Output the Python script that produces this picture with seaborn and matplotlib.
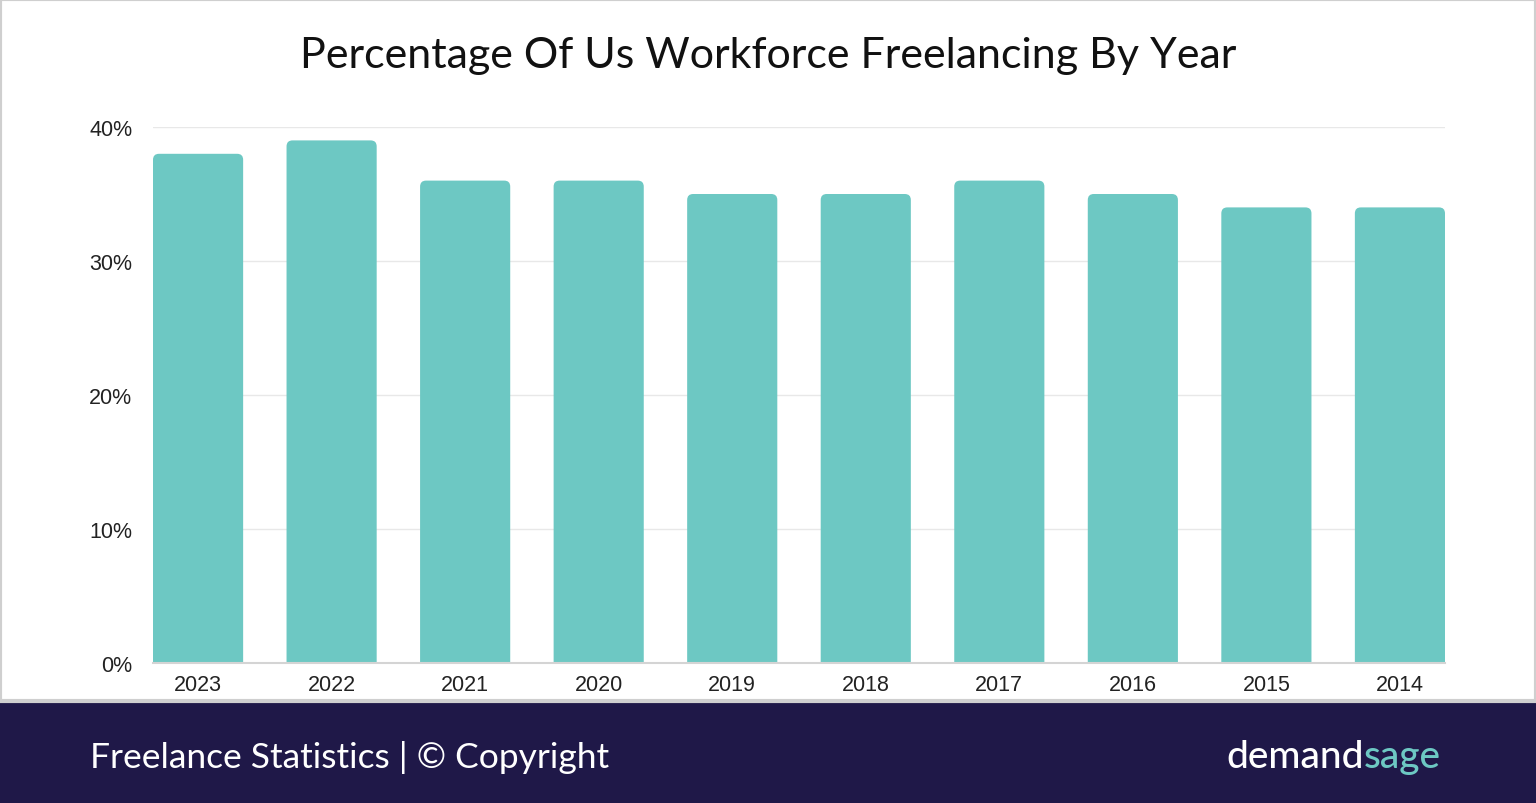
"""
Percentage of US workforce freelancing by year - bar chart
"""
import seaborn as sns
import numpy as np
import matplotlib.pyplot as plt
import pandas as pd
from matplotlib.patches import FancyBboxPatch, Rectangle

# %% Data
years = ['2023', '2022', '2021', '2020', '2019',
         '2018', '2017', '2016', '2015', '2014']
share = [38, 39, 36, 36, 35, 35, 36, 35, 34, 34]
y_ticks = [0, 10, 20, 30, 40]
y_labels = ['0%', '10%', '20%', '30%', '40%']

TEAL = '#6dc8c3'
NAVY = '#1f1848'
W, H = 1536, 804

df = pd.DataFrame({'year': years, 'share': share})

# %% Plot
sns.set_theme(style='white')
plt.rcParams['font.family'] = ['Liberation Sans', 'DejaVu Sans']

fig = plt.figure(figsize=(W / 100, H / 100), dpi=100)
ax = fig.add_axes([153 / W, (H - 664) / H, (1445 - 153) / W, (664 - 128) / H])

bw = 0.675
sns.barplot(df, x='year', y='share', color=TEAL, width=bw,
            saturation=1, ax=ax, zorder=2)

# swap plain bars for ones with rounded tops (bottom corners clipped at 0)
x_per_px = (9 + bw) / (1445 - 153)
y_per_px = 40 / (664 - 128)
r = 6 * x_per_px
for p in list(ax.patches):
    x0, w, h = p.get_x(), p.get_width(), p.get_height()
    p.set_visible(False)
    ax.add_patch(FancyBboxPatch((x0, -h), w, 2 * h,
                                boxstyle=f'round,pad=0,rounding_size={r}',
                                mutation_aspect=y_per_px / x_per_px,
                                fc=TEAL, ec='none', zorder=2))

ax.set_xlim(-bw / 2, 9 + bw / 2)
ax.set_ylim(0, 40)
ax.set_yticks(y_ticks)
ax.set_yticklabels(y_labels)
ax.yaxis.grid(True, color='#e8e8e8', lw=1, zorder=0)
ax.set_xlabel('')
ax.set_ylabel('')
for s in ['top', 'right', 'left']:
    ax.spines[s].set_visible(False)
ax.spines['bottom'].set_color('#d4d4d4')
ax.spines['bottom'].set_linewidth(1.5)
ax.spines['bottom'].set_zorder(3)
ax.tick_params(axis='both', length=0, labelsize=15.5, colors='#222222')
ax.tick_params(axis='y', pad=15)
ax.tick_params(axis='x', pad=8)

# %% Title
fig.text(768 / W, 1 - 56 / H, 'Percentage Of Us Workforce Freelancing By Year',
         ha='center', va='center', fontsize=31, family='Lato',
         color='#111111')

# %% Footer band
fig.patches.append(Rectangle((0, 0), 1, (H - 702) / H, transform=fig.transFigure,
                             fc=NAVY, ec='none', zorder=0))
fig.patches.append(Rectangle((0, (H - 702) / H), 1, 702 / H,
                             transform=fig.transFigure, fc='none',
                             ec='#cfcfcf', lw=3, zorder=5))
fig.text(90 / W, 1 - 758 / H, 'Freelance Statistics | © Copyright',
         ha='left', va='center', fontsize=25.5, family='Lato', color='white')
t1 = fig.text(1226 / W, 1 - 758 / H, 'demand', ha='left', va='center',
              fontsize=28, family='Lato', color='white', weight='medium')
fig.canvas.draw()
bb = t1.get_window_extent()
fig.text(bb.x1 / W, 1 - 758 / H, 'sage', ha='left', va='center',
         fontsize=28, family='Lato', color=TEAL, weight='medium')

fig.savefig('out.png', dpi=100)
